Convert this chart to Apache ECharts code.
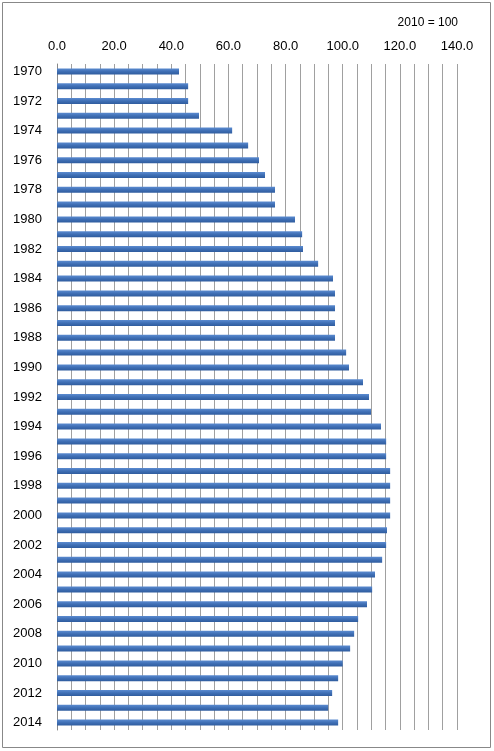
<!DOCTYPE html><html><head><meta charset="utf-8">
<script src="https://cdn.jsdelivr.net/npm/echarts@6/dist/echarts.min.js"></script>
<style>html,body{margin:0;padding:0;background:#fff}#c{width:494px;height:751px}</style></head><body><div id="c"></div>
<script>
const years=[];for(let y=1970;y<=2014;y++)years.push(String(y));
const values=[42.7,45.9,45.9,49.7,61.3,66.9,70.7,72.8,76.3,76.3,83.3,85.8,86.1,91.4,96.6,97.3,97.3,97.3,97.3,101.2,102.2,107.1,109.2,109.9,113.4,115.2,115.2,116.6,116.6,116.6,116.6,115.5,115.2,113.8,111.3,110.3,108.5,105.4,104.0,102.6,100.0,98.4,96.3,94.9,98.4];
const note='2010 = 100';
const ch=echarts.init(document.getElementById('c'));
ch.setOption({
 animation:false,
 graphic:[{type:'rect',shape:{x:2.5,y:2.5,width:488,height:745},style:{fill:'none',stroke:'#888',lineWidth:1}},
  {type:'text',right:36,top:17,style:{text:note,font:'12px "Liberation Sans", Arial',fill:'#000'}}],
 grid:{left:57,right:37,top:64,bottom:21},
 xAxis:{type:'value',position:'top',min:0,max:140,interval:5,
  axisLine:{show:false},axisTick:{show:false},
  axisLabel:{color:'#000',fontSize:13,fontFamily:'Liberation Sans, Arial',margin:11,
   formatter:v=>v%20===0?v.toFixed(1):''},
  splitLine:{lineStyle:{color:'#a0a0a0',width:1}}},
 yAxis:{type:'category',data:years,inverse:true,
  axisLine:{lineStyle:{color:'#888'}},axisTick:{show:false},
  axisLabel:{color:'#000',fontSize:13,fontFamily:'Liberation Sans, Arial',interval:1,margin:15}},
 series:[{type:'bar',data:values,barWidth:6,
  itemStyle:{color:new echarts.graphic.LinearGradient(0,0,0,1,[{offset:0,color:'#5b8bd0'},{offset:0.5,color:'#3f6fb5'},{offset:1,color:'#2f5c9e'}])}}]
});
</script></body></html>
